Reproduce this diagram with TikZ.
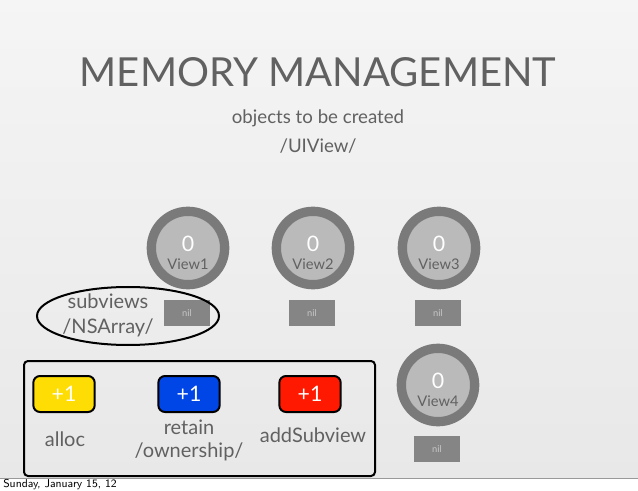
\documentclass[tikz,border=0pt]{standalone}
\usepackage{fontspec}
\setmainfont{Lato}
\begin{document}
\begin{tikzpicture}[x=0.75pt,y=-0.75pt,
  txt/.style={text=black!62,inner sep=0pt},
  ring/.style={circle,draw=black!52,line width=7pt,fill=black!27,minimum size=55pt,inner sep=0pt},
  nilbox/.style={fill=black!48,minimum width=34.5pt,minimum height=19.5pt,inner sep=0pt,text=black!22,font=\fontsize{7}{8}\selectfont},
  btn/.style={draw=black,line width=1.5pt,rounded corners=5pt,minimum width=46pt,minimum height=27pt,inner sep=0pt,text=white,font=\fontsize{16}{18}\selectfont}]
\path[use as bounding box] (0,0) rectangle (638,491);
\shade[top color=black!4,bottom color=black!9] (0,0) rectangle (638,478);
\draw[black!40] (0,478) -- (638,478);
\node[txt,font=\fontsize{8.5}{10}\selectfont\sffamily,text=black,anchor=west] (foot) at (3,484.5) {Sunday, January 15, 12};
\node[txt,font=\fontsize{30}{34}\selectfont] (title) at (318,72) {MEMORY MANAGEMENT};
\node[txt,font=\fontsize{14}{16}\selectfont] (sub1) at (318,118) {objects to be created};
\node[txt,font=\fontsize{14}{16}\selectfont] (sub2) at (318,146) {/UIView/};
\foreach \n/\x/\y/\ny in {1/188/248/313,2/313/248/313,3/439/248/313,4/438/385/449}{
  \node[ring] (v\n) at (\x,\y) {};
  \node[txt,text=white,font=\fontsize{16}{18}\selectfont] (z\n) at (\x,\y-4) {0};
  \node[txt,font=\fontsize{11}{13}\selectfont] (l\n) at (\x,\y+16) {View\n};
  \node[nilbox] (nil\n) at (\x-1,\ny) {nil};
}
\node[txt,font=\fontsize{15}{17}\selectfont] (subv) at (108,301) {subviews};
\node[txt,font=\fontsize{15}{17}\selectfont] (nsa) at (108,328) {/NSArray/};
\draw[line width=1.5pt] (128,316) ellipse (91 and 29);
\draw[line width=1.5pt,rounded corners=3pt] (24,361) rectangle (375,476);
\node[btn,fill=yellow!80!orange] (b1) at (64,394) {+1};
\node[btn,fill=blue!70!cyan!90!black] (b2) at (189,394) {+1};
\node[btn,fill=red!80!orange] (b3) at (310,394) {+1};
\node[txt,font=\fontsize{15}{17}\selectfont] (a1) at (65,439) {alloc};
\node[txt,font=\fontsize{15}{17}\selectfont] (a2) at (189,427) {retain};
\node[txt,font=\fontsize{15}{17}\selectfont] (a3) at (189,452) {/ownership/};
\node[txt,font=\fontsize{15}{17}\selectfont] (a4) at (313,435) {addSubview};
\end{tikzpicture}
\end{document}
